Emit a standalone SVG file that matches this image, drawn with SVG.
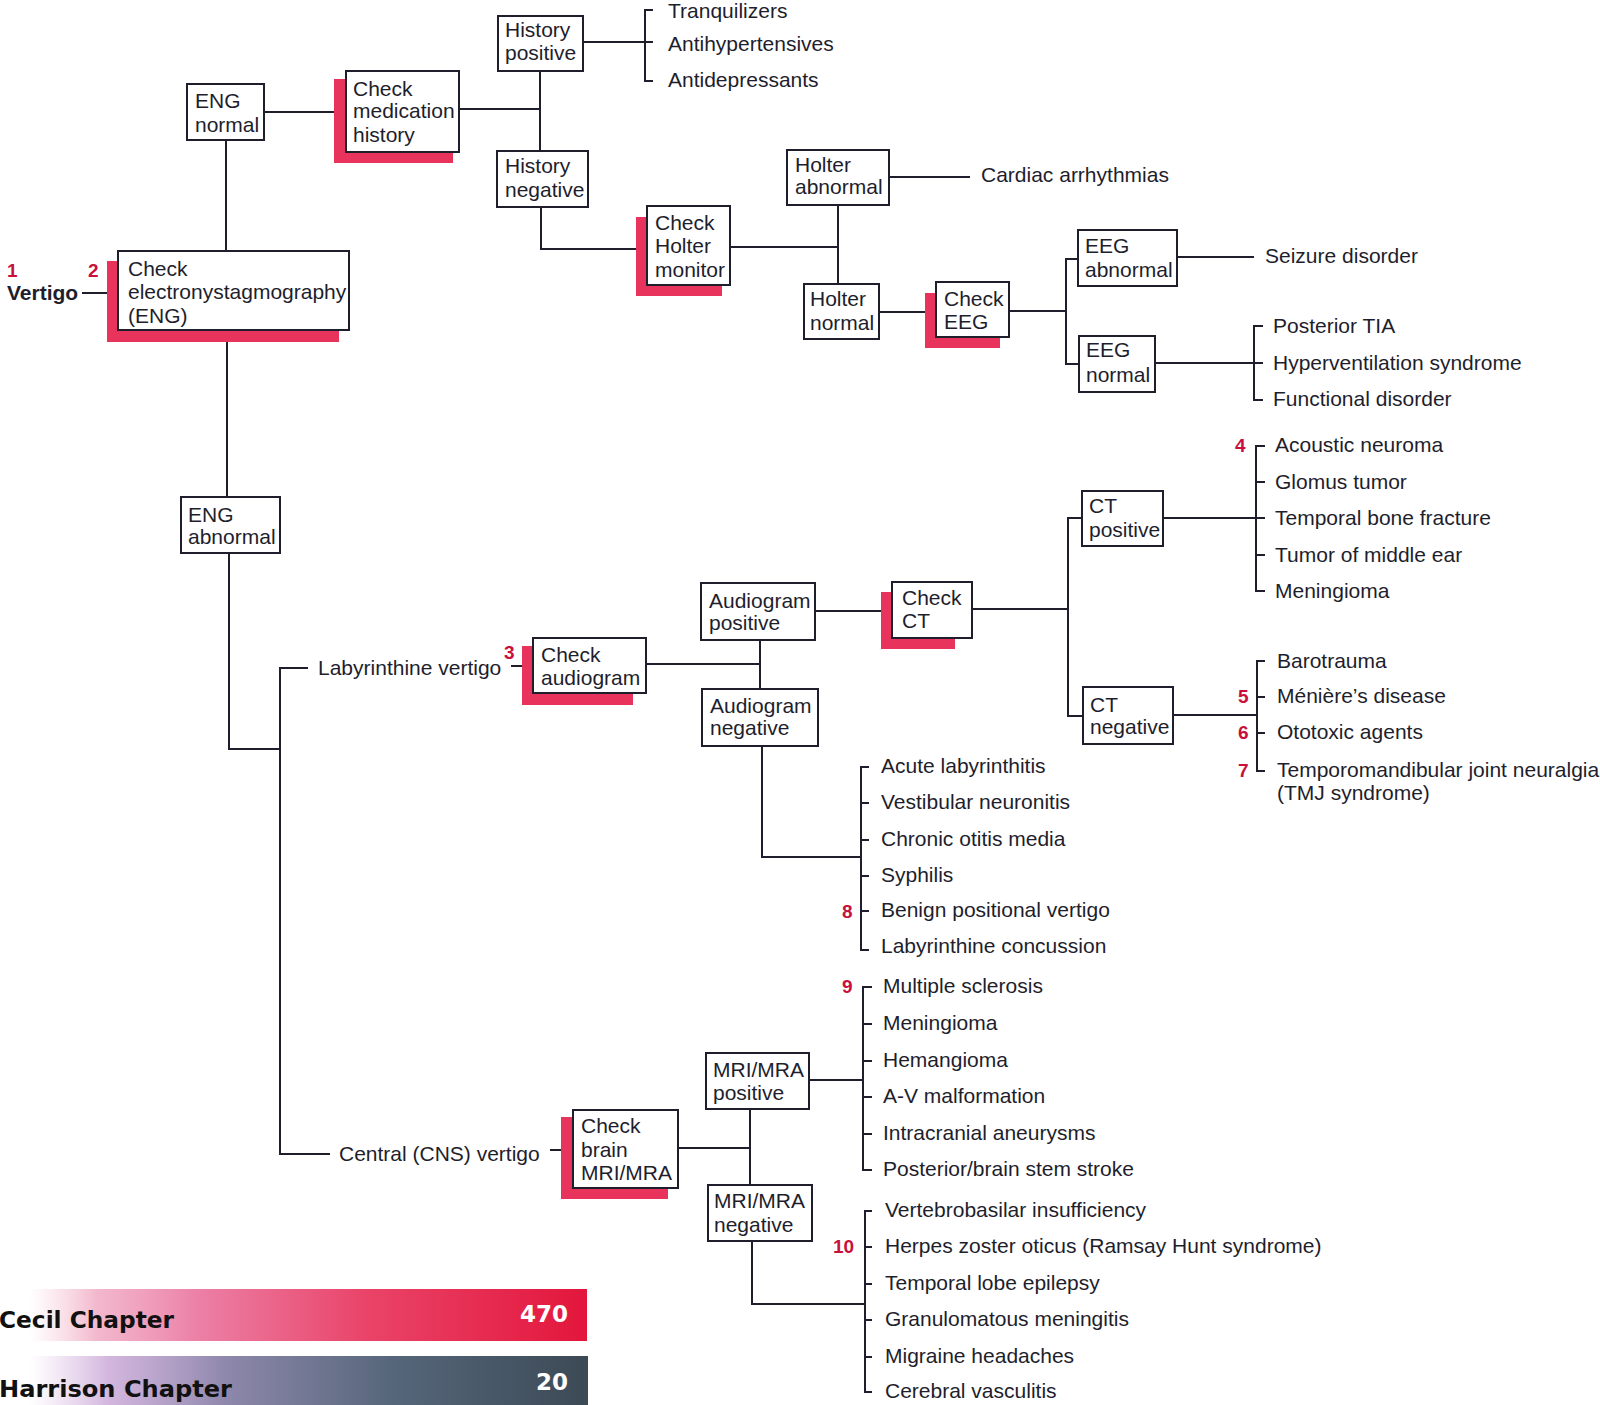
<svg xmlns="http://www.w3.org/2000/svg" width="1600" height="1405" viewBox="0 0 1600 1405">
<defs>
<style>
text{font-family:"Liberation Sans",Arial,sans-serif;font-size:21px;fill:#1e1e2c}
.box{fill:#fff;stroke:#1e1e2c;stroke-width:2}
.sh{fill:#e8345c}
.ln{fill:none;stroke:#1e1e2c;stroke-width:2}
.num{font-weight:bold;font-size:19px;fill:#c8103c}
.bold{font-weight:bold}
.bar{font-family:"DejaVu Sans",sans-serif;font-weight:bold;font-size:23px;fill:#111}
.barn{font-family:"DejaVu Sans",sans-serif;font-weight:bold;font-size:23px;fill:#fff}
</style>
<linearGradient id="gRed" x1="30" y1="0" x2="587" y2="0" gradientUnits="userSpaceOnUse">
<stop offset="0" stop-color="#f4b8cc" stop-opacity="0"/>
<stop offset="0.12" stop-color="#eea0bc" stop-opacity="0.75"/>
<stop offset="0.3" stop-color="#ec80a6"/>
<stop offset="0.6" stop-color="#ea4469"/>
<stop offset="1" stop-color="#e3163c"/>
</linearGradient>
<linearGradient id="gDark" x1="30" y1="0" x2="588" y2="0" gradientUnits="userSpaceOnUse">
<stop offset="0" stop-color="#d8b8e0" stop-opacity="0"/>
<stop offset="0.14" stop-color="#c8a4d6" stop-opacity="0.8"/>
<stop offset="0.35" stop-color="#8e88ac"/>
<stop offset="0.65" stop-color="#56667a"/>
<stop offset="1" stop-color="#3c4a56"/>
</linearGradient>
</defs>
<rect width="1600" height="1405" fill="#fff"/>

<g id="connectors" class="ln">
<path d="M82,293H118"/>
<path d="M226,140V251"/>
<path d="M264,112H346"/>
<path d="M459,109H540M540,71V151"/>
<path d="M583,42H653M653,10H645V81H653"/>
<path d="M541,207V249H647"/>
<path d="M730,247H838M838,205V284"/>
<path d="M889,177H970"/>
<path d="M879,312H936"/>
<path d="M1009,311H1066M1078,259H1066V364H1079"/>
<path d="M1177,257H1254"/>
<path d="M1155,363H1263M1263,326H1254V400H1263"/>
<path d="M227,330V497"/>
<path d="M229,553V749H281"/>
<path d="M308,668H280V1154H330"/>
<path d="M511,666H533"/>
<path d="M646,664H760M760,640V689"/>
<path d="M815,611H892"/>
<path d="M972,609H1068M1082,518H1068V716H1083"/>
<path d="M1163,518H1265M1265,446H1256V591H1265M1256,482H1265M1256,555H1265"/>
<path d="M762,746V857H861M869,767H861V950H869M861,803H869M861,840H869M861,876H869M861,911H869"/>
<path d="M1173,715H1257M1265,661H1257V771H1265M1257,697H1265M1257,733H1265"/>
<path d="M550,1150H573"/>
<path d="M678,1148H750M750,1109V1185"/>
<path d="M809,1080H863M872,987H863V1170H872M863,1024H872M863,1061H872M863,1097H872M863,1134H872"/>
<path d="M752,1241V1304H865M872,1211H865V1392H872M865,1247H872M865,1284H872M865,1320H872M865,1357H872"/>
</g>

<g id="vertigo">
<text x="7" y="300" class="bold">Vertigo</text>
<text x="7" y="277" class="num">1</text>
</g>

<g id="check-eng">
<rect class="sh" x="107" y="261" width="232" height="81"/>
<rect class="box" x="118" y="251" width="231" height="79"/>
<text x="128" y="276">Check</text>
<text x="128" y="299">electronystagmography</text>
<text x="128" y="323">(ENG)</text>
<text x="88" y="277" class="num">2</text>
</g>

<g id="eng-normal">
<rect class="box" x="187" y="84" width="77" height="56"/>
<text x="195" y="108">ENG</text>
<text x="195" y="132">normal</text>
</g>

<g id="check-medication">
<rect class="sh" x="334" y="79" width="119" height="84"/>
<rect class="box" x="346" y="71" width="113" height="81"/>
<text x="353" y="96">Check</text>
<text x="353" y="118">medication</text>
<text x="353" y="142">history</text>
</g>

<g id="history-positive">
<rect class="box" x="498" y="16" width="85" height="55"/>
<text x="505" y="37">History</text>
<text x="505" y="60">positive</text>
</g>

<g id="drugs">
<text x="668" y="18">Tranquilizers</text>
<text x="668" y="51">Antihypertensives</text>
<text x="668" y="87">Antidepressants</text>
</g>

<g id="history-negative">
<rect class="box" x="497" y="151" width="91" height="56"/>
<text x="505" y="173">History</text>
<text x="505" y="197">negative</text>
</g>

<g id="check-holter">
<rect class="sh" x="636" y="217" width="86" height="79"/>
<rect class="box" x="647" y="206" width="83" height="79"/>
<text x="655" y="230">Check</text>
<text x="655" y="253">Holter</text>
<text x="655" y="277">monitor</text>
</g>

<g id="holter-abnormal">
<rect class="box" x="787" y="150" width="102" height="55"/>
<text x="795" y="172">Holter</text>
<text x="795" y="194">abnormal</text>
</g>

<g id="cardiac">
<text x="981" y="182">Cardiac arrhythmias</text>
</g>

<g id="holter-normal">
<rect class="box" x="804" y="284" width="75" height="55"/>
<text x="810" y="306">Holter</text>
<text x="810" y="330">normal</text>
</g>

<g id="check-eeg">
<rect class="sh" x="925" y="293" width="75" height="55"/>
<rect class="box" x="936" y="282" width="73" height="55"/>
<text x="944" y="306">Check</text>
<text x="944" y="329">EEG</text>
</g>

<g id="eeg-abnormal">
<rect class="box" x="1078" y="230" width="99" height="56"/>
<text x="1085" y="253">EEG</text>
<text x="1085" y="277">abnormal</text>
</g>

<g id="seizure">
<text x="1265" y="263">Seizure disorder</text>
</g>

<g id="eeg-normal">
<rect class="box" x="1079" y="336" width="76" height="56"/>
<text x="1086" y="357">EEG</text>
<text x="1086" y="382">normal</text>
</g>

<g id="eeg-normal-dx">
<text x="1273" y="333">Posterior TIA</text>
<text x="1273" y="370">Hyperventilation syndrome</text>
<text x="1273" y="406">Functional disorder</text>
</g>

<g id="eng-abnormal">
<rect class="box" x="181" y="497" width="99" height="56"/>
<text x="188" y="522">ENG</text>
<text x="188" y="544">abnormal</text>
</g>

<g id="labyrinthine">
<text x="318" y="675">Labyrinthine vertigo</text>
<text x="504" y="659" class="num">3</text>
</g>

<g id="check-audiogram">
<rect class="sh" x="522" y="646" width="111" height="59"/>
<rect class="box" x="533" y="638" width="113" height="55"/>
<text x="541" y="662">Check</text>
<text x="541" y="685">audiogram</text>
</g>

<g id="audiogram-positive">
<rect class="box" x="701" y="583" width="114" height="57"/>
<text x="709" y="608">Audiogram</text>
<text x="709" y="630">positive</text>
</g>

<g id="audiogram-negative">
<rect class="box" x="702" y="689" width="116" height="57"/>
<text x="710" y="713">Audiogram</text>
<text x="710" y="735">negative</text>
</g>

<g id="check-ct">
<rect class="sh" x="881" y="592" width="74" height="57"/>
<rect class="box" x="892" y="582" width="80" height="56"/>
<text x="902" y="605">Check</text>
<text x="902" y="628">CT</text>
</g>

<g id="ct-positive">
<rect class="box" x="1082" y="491" width="81" height="55"/>
<text x="1089" y="513">CT</text>
<text x="1089" y="537">positive</text>
</g>

<g id="ct-positive-dx">
<text x="1235" y="452" class="num">4</text>
<text x="1275" y="452">Acoustic neuroma</text>
<text x="1275" y="489">Glomus tumor</text>
<text x="1275" y="525">Temporal bone fracture</text>
<text x="1275" y="562">Tumor of middle ear</text>
<text x="1275" y="598">Meningioma</text>
</g>

<g id="ct-negative">
<rect class="box" x="1083" y="687" width="90" height="57"/>
<text x="1090" y="712">CT</text>
<text x="1090" y="734">negative</text>
</g>

<g id="ct-negative-dx">
<text x="1277" y="668">Barotrauma</text>
<text x="1238" y="703" class="num">5</text>
<text x="1277" y="703">Ménière’s disease</text>
<text x="1238" y="739" class="num">6</text>
<text x="1277" y="739">Ototoxic agents</text>
<text x="1238" y="777" class="num">7</text>
<text x="1277" y="777">Temporomandibular joint neuralgia</text>
<text x="1277" y="800">(TMJ syndrome)</text>
</g>

<g id="audiogram-negative-dx">
<text x="881" y="773">Acute labyrinthitis</text>
<text x="881" y="809">Vestibular neuronitis</text>
<text x="881" y="846">Chronic otitis media</text>
<text x="881" y="882">Syphilis</text>
<text x="842" y="918" class="num">8</text>
<text x="881" y="917">Benign positional vertigo</text>
<text x="881" y="953">Labyrinthine concussion</text>
</g>

<g id="central">
<text x="339" y="1161">Central (CNS) vertigo</text>
</g>

<g id="check-mri">
<rect class="sh" x="561" y="1117" width="107" height="82"/>
<rect class="box" x="573" y="1110" width="105" height="78"/>
<text x="581" y="1133">Check</text>
<text x="581" y="1157">brain</text>
<text x="581" y="1180">MRI/MRA</text>
</g>

<g id="mri-positive">
<rect class="box" x="706" y="1053" width="103" height="56"/>
<text x="713" y="1077">MRI/MRA</text>
<text x="713" y="1100">positive</text>
</g>

<g id="mri-positive-dx">
<text x="842" y="993" class="num">9</text>
<text x="883" y="993">Multiple sclerosis</text>
<text x="883" y="1030">Meningioma</text>
<text x="883" y="1067">Hemangioma</text>
<text x="883" y="1103">A-V malformation</text>
<text x="883" y="1140">Intracranial aneurysms</text>
<text x="883" y="1176">Posterior/brain stem stroke</text>
</g>

<g id="mri-negative">
<rect class="box" x="708" y="1185" width="104" height="56"/>
<text x="714" y="1208">MRI/MRA</text>
<text x="714" y="1232">negative</text>
</g>

<g id="mri-negative-dx">
<text x="885" y="1217">Vertebrobasilar insufficiency</text>
<text x="833" y="1253" class="num">10</text>
<text x="885" y="1253">Herpes zoster oticus (Ramsay Hunt syndrome)</text>
<text x="885" y="1290">Temporal lobe epilepsy</text>
<text x="885" y="1326">Granulomatous meningitis</text>
<text x="885" y="1363">Migraine headaches</text>
<text x="885" y="1398">Cerebral vasculitis</text>
</g>

<g id="cecil-bar">
<rect x="30" y="1289" width="557" height="52" fill="url(#gRed)"/>
<text x="-1" y="1328" class="bar" textLength="175" lengthAdjust="spacingAndGlyphs">Cecil Chapter</text>
<text x="568" y="1322" class="barn" text-anchor="end">470</text>
</g>

<g id="harrison-bar">
<rect x="30" y="1356" width="558" height="49" fill="url(#gDark)"/>
<text x="-1" y="1397" class="bar" textLength="233" lengthAdjust="spacingAndGlyphs">Harrison Chapter</text>
<text x="568" y="1390" class="barn" text-anchor="end">20</text>
</g>
</svg>
